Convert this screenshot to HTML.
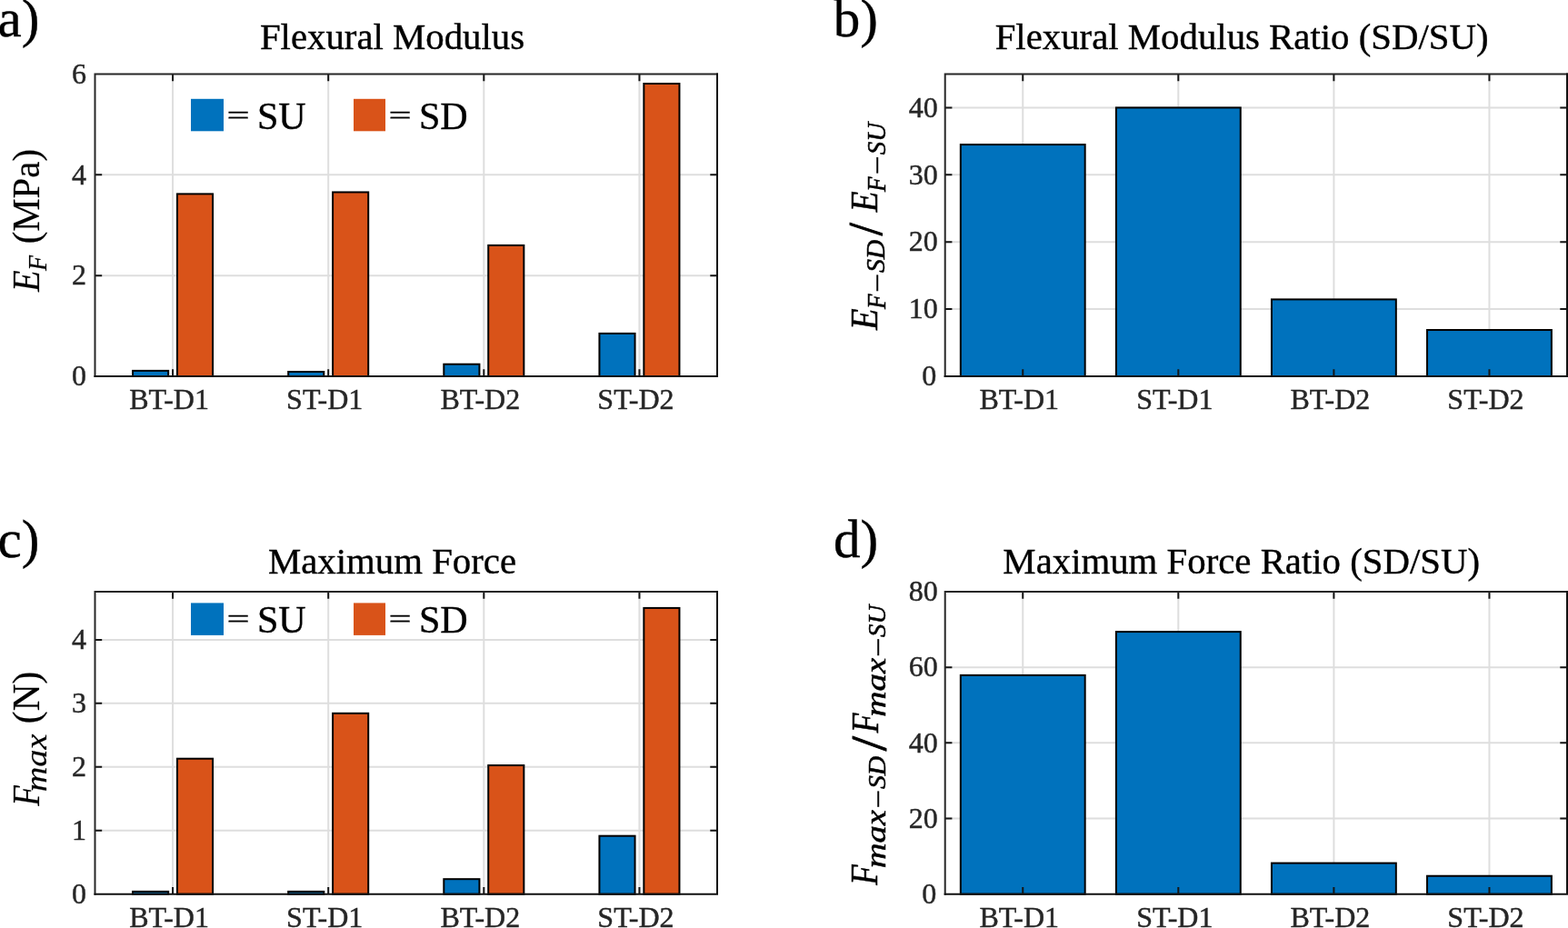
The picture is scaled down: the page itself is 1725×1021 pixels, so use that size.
<!DOCTYPE html>
<html><head><meta charset="utf-8"><title>Flexural Modulus and Maximum Force</title>
<style>
html,body{margin:0;padding:0;background:#fff;}
body{width:1725px;height:1021px;overflow:hidden;}
svg{display:block;font-family:'Liberation Serif', 'Times New Roman', serif;}
</style></head>
<body>
<svg width="1725" height="1021" viewBox="0 0 1725 1021">
<rect width="1725" height="1021" fill="#fff"/>
<g stroke="#dedede" stroke-width="2"><line x1="190.06" y1="81.5" x2="190.06" y2="414"/><line x1="361.19" y1="81.5" x2="361.19" y2="414"/><line x1="532.31" y1="81.5" x2="532.31" y2="414"/><line x1="703.44" y1="81.5" x2="703.44" y2="414"/><line x1="104.5" y1="303.17" x2="789" y2="303.17"/><line x1="104.5" y1="192.33" x2="789" y2="192.33"/></g>
<g stroke="#000" stroke-width="2"><rect x="146.05" y="407.9" width="39.12" height="6.1" fill="#0072BD"/><rect x="194.96" y="213.39" width="39.12" height="200.61" fill="#D95319"/><rect x="317.17" y="409.01" width="39.12" height="4.99" fill="#0072BD"/><rect x="366.08" y="211.45" width="39.12" height="202.55" fill="#D95319"/><rect x="488.3" y="400.7" width="39.12" height="13.3" fill="#0072BD"/><rect x="537.21" y="269.92" width="39.12" height="144.08" fill="#D95319"/><rect x="659.42" y="366.9" width="39.12" height="47.1" fill="#0072BD"/><rect x="708.33" y="92.03" width="39.12" height="321.97" fill="#D95319"/></g>
<path d="M190.06 414v-7.7M190.06 81.5v7.7M361.19 414v-7.7M361.19 81.5v7.7M532.31 414v-7.7M532.31 81.5v7.7M703.44 414v-7.7M703.44 81.5v7.7M104.5 303.17h7.7M789 303.17h-7.7M104.5 192.33h7.7M789 192.33h-7.7" stroke="#161616" stroke-width="2" fill="none"/>
<path d="M104.5 415V81.5H790" stroke="#262626" stroke-width="2" fill="none"/>
<path d="M103.5 414H789V80.5" stroke="#111" stroke-width="2" fill="none"/>
<g font-size="32" fill="#262626" stroke="#262626" stroke-width="0.45"><text x="186.06" y="450" text-anchor="middle">BT-D1</text><text x="357.19" y="450" text-anchor="middle">ST-D1</text><text x="528.31" y="450" text-anchor="middle">BT-D2</text><text x="699.44" y="450" text-anchor="middle">ST-D2</text><text x="95" y="424.2" text-anchor="end">0</text><text x="95" y="313.37" text-anchor="end">2</text><text x="95" y="202.53" text-anchor="end">4</text><text x="95" y="91.7" text-anchor="end">6</text></g>
<g stroke="#dedede" stroke-width="2"><line x1="1125.24" y1="81.5" x2="1125.24" y2="414"/><line x1="1296.31" y1="81.5" x2="1296.31" y2="414"/><line x1="1467.39" y1="81.5" x2="1467.39" y2="414"/><line x1="1638.46" y1="81.5" x2="1638.46" y2="414"/><line x1="1039.7" y1="340.11" x2="1724" y2="340.11"/><line x1="1039.7" y1="266.22" x2="1724" y2="266.22"/><line x1="1039.7" y1="192.33" x2="1724" y2="192.33"/><line x1="1039.7" y1="118.44" x2="1724" y2="118.44"/></g>
<g stroke="#000" stroke-width="2"><rect x="1056.81" y="159.08" width="136.86" height="254.92" fill="#0072BD"/><rect x="1227.88" y="118.44" width="136.86" height="295.56" fill="#0072BD"/><rect x="1398.96" y="329.4" width="136.86" height="84.6" fill="#0072BD"/><rect x="1570.03" y="363.02" width="136.86" height="50.98" fill="#0072BD"/></g>
<path d="M1125.24 414v-7.7M1125.24 81.5v7.7M1296.31 414v-7.7M1296.31 81.5v7.7M1467.39 414v-7.7M1467.39 81.5v7.7M1638.46 414v-7.7M1638.46 81.5v7.7M1039.7 340.11h7.7M1724 340.11h-7.7M1039.7 266.22h7.7M1724 266.22h-7.7M1039.7 192.33h7.7M1724 192.33h-7.7M1039.7 118.44h7.7M1724 118.44h-7.7" stroke="#161616" stroke-width="2" fill="none"/>
<path d="M1039.7 415V81.5H1725" stroke="#262626" stroke-width="2" fill="none"/>
<path d="M1038.7 414H1724V80.5" stroke="#111" stroke-width="2" fill="none"/>
<g font-size="32" fill="#262626" stroke="#262626" stroke-width="0.45"><text x="1121.24" y="450" text-anchor="middle">BT-D1</text><text x="1292.31" y="450" text-anchor="middle">ST-D1</text><text x="1463.39" y="450" text-anchor="middle">BT-D2</text><text x="1634.46" y="450" text-anchor="middle">ST-D2</text><text x="1030.2" y="424.2" text-anchor="end">0</text><text x="1031.7" y="350.31" text-anchor="end">10</text><text x="1031.7" y="276.42" text-anchor="end">20</text><text x="1031.7" y="202.53" text-anchor="end">30</text><text x="1031.7" y="128.64" text-anchor="end">40</text></g>
<g stroke="#dedede" stroke-width="2"><line x1="190.06" y1="651" x2="190.06" y2="983.7"/><line x1="361.19" y1="651" x2="361.19" y2="983.7"/><line x1="532.31" y1="651" x2="532.31" y2="983.7"/><line x1="703.44" y1="651" x2="703.44" y2="983.7"/><line x1="104.5" y1="913.75" x2="789" y2="913.75"/><line x1="104.5" y1="843.79" x2="789" y2="843.79"/><line x1="104.5" y1="773.84" x2="789" y2="773.84"/><line x1="104.5" y1="703.89" x2="789" y2="703.89"/></g>
<g stroke="#000" stroke-width="2"><rect x="146.05" y="980.9" width="39.12" height="2.8" fill="#0072BD"/><rect x="194.96" y="834.7" width="39.12" height="149" fill="#D95319"/><rect x="317.17" y="980.9" width="39.12" height="2.8" fill="#0072BD"/><rect x="366.08" y="784.82" width="39.12" height="198.88" fill="#D95319"/><rect x="488.3" y="967.19" width="39.12" height="16.51" fill="#0072BD"/><rect x="537.21" y="842.04" width="39.12" height="141.66" fill="#D95319"/><rect x="659.42" y="919.69" width="39.12" height="64.01" fill="#0072BD"/><rect x="708.33" y="668.91" width="39.12" height="314.79" fill="#D95319"/></g>
<path d="M190.06 983.7v-7.7M190.06 651v7.7M361.19 983.7v-7.7M361.19 651v7.7M532.31 983.7v-7.7M532.31 651v7.7M703.44 983.7v-7.7M703.44 651v7.7M104.5 913.75h7.7M789 913.75h-7.7M104.5 843.79h7.7M789 843.79h-7.7M104.5 773.84h7.7M789 773.84h-7.7M104.5 703.89h7.7M789 703.89h-7.7" stroke="#161616" stroke-width="2" fill="none"/>
<path d="M104.5 984.7V651H790" stroke="#262626" stroke-width="2" fill="none"/>
<path d="M103.5 983.7H789V650" stroke="#111" stroke-width="2" fill="none"/>
<g font-size="32" fill="#262626" stroke="#262626" stroke-width="0.45"><text x="186.06" y="1019.7" text-anchor="middle">BT-D1</text><text x="357.19" y="1019.7" text-anchor="middle">ST-D1</text><text x="528.31" y="1019.7" text-anchor="middle">BT-D2</text><text x="699.44" y="1019.7" text-anchor="middle">ST-D2</text><text x="95" y="993.9" text-anchor="end">0</text><text x="95" y="923.95" text-anchor="end">1</text><text x="95" y="853.99" text-anchor="end">2</text><text x="95" y="784.04" text-anchor="end">3</text><text x="95" y="714.09" text-anchor="end">4</text></g>
<g stroke="#dedede" stroke-width="2"><line x1="1125.24" y1="651" x2="1125.24" y2="983.7"/><line x1="1296.31" y1="651" x2="1296.31" y2="983.7"/><line x1="1467.39" y1="651" x2="1467.39" y2="983.7"/><line x1="1638.46" y1="651" x2="1638.46" y2="983.7"/><line x1="1039.7" y1="900.53" x2="1724" y2="900.53"/><line x1="1039.7" y1="817.35" x2="1724" y2="817.35"/><line x1="1039.7" y1="734.17" x2="1724" y2="734.17"/></g>
<g stroke="#000" stroke-width="2"><rect x="1056.81" y="742.91" width="136.86" height="240.79" fill="#0072BD"/><rect x="1227.88" y="695.08" width="136.86" height="288.62" fill="#0072BD"/><rect x="1398.96" y="949.6" width="136.86" height="34.1" fill="#0072BD"/><rect x="1570.03" y="963.74" width="136.86" height="19.96" fill="#0072BD"/></g>
<path d="M1125.24 983.7v-7.7M1125.24 651v7.7M1296.31 983.7v-7.7M1296.31 651v7.7M1467.39 983.7v-7.7M1467.39 651v7.7M1638.46 983.7v-7.7M1638.46 651v7.7M1039.7 900.53h7.7M1724 900.53h-7.7M1039.7 817.35h7.7M1724 817.35h-7.7M1039.7 734.17h7.7M1724 734.17h-7.7" stroke="#161616" stroke-width="2" fill="none"/>
<path d="M1039.7 984.7V651H1725" stroke="#262626" stroke-width="2" fill="none"/>
<path d="M1038.7 983.7H1724V650" stroke="#111" stroke-width="2" fill="none"/>
<g font-size="32" fill="#262626" stroke="#262626" stroke-width="0.45"><text x="1121.24" y="1019.7" text-anchor="middle">BT-D1</text><text x="1292.31" y="1019.7" text-anchor="middle">ST-D1</text><text x="1463.39" y="1019.7" text-anchor="middle">BT-D2</text><text x="1634.46" y="1019.7" text-anchor="middle">ST-D2</text><text x="1030.2" y="993.9" text-anchor="end">0</text><text x="1031.7" y="910.73" text-anchor="end">20</text><text x="1031.7" y="827.55" text-anchor="end">40</text><text x="1031.7" y="744.38" text-anchor="end">60</text><text x="1031.7" y="661.2" text-anchor="end">80</text></g>
<rect x="210" y="108.8" width="36" height="35.5" fill="#0072BD"/>
<rect x="389" y="108.8" width="35" height="35.5" fill="#D95319"/>
<g font-size="42" fill="#000" stroke="#000" stroke-width="0.4"><text transform="translate(262.1,127.6) scale(1.064,0.703)" y="13.05" text-anchor="middle">=</text><text x="282.9" y="141.5">SU</text><text transform="translate(440.0,127.6) scale(1.064,0.703)" y="13.05" text-anchor="middle">=</text><text x="460.9" y="141.5">SD</text></g>
<rect x="210" y="663.4" width="36" height="35.5" fill="#0072BD"/>
<rect x="389" y="663.4" width="35" height="35.5" fill="#D95319"/>
<g font-size="42" fill="#000" stroke="#000" stroke-width="0.4"><text transform="translate(262.1,682.2) scale(1.064,0.703)" y="13.05" text-anchor="middle">=</text><text x="282.9" y="696.1">SU</text><text transform="translate(440.0,682.2) scale(1.064,0.703)" y="13.05" text-anchor="middle">=</text><text x="460.9" y="696.1">SD</text></g>
<g font-size="40.8" fill="#000" stroke="#000" stroke-width="0.4" text-anchor="middle"><text x="431.5" y="53.7">Flexural Modulus</text><text x="1366.1" y="53.7">Flexural Modulus Ratio (SD/SU)</text><text x="431.5" y="631">Maximum Force</text><text x="1365.7" y="631">Maximum Force Ratio (SD/SU)</text></g>
<g font-size="59" fill="#000" stroke="#000" stroke-width="0.4"><text x="-2.5" y="39.8">a)</text><text x="916.8" y="39.8">b)</text><text x="-2.5" y="612.8">c)</text><text x="917" y="612.8">d)</text></g>
<g fill="#000" stroke="#000" stroke-width="0.2">
<text transform="translate(42.80,320.91) rotate(-90) scale(0.907,1)" font-size="42.44" font-style="italic">E</text>
<text transform="translate(51.05,297.96) rotate(-90) scale(0.923,1)" font-size="30.15" font-style="italic">F</text>
<text transform="translate(42.50,268.34) rotate(-90) scale(0.986,1)" font-size="41.44">(MPa)</text>
<text transform="translate(42.61,886.82) rotate(-90) scale(0.873,1)" font-size="42.15" font-style="italic">F</text>
<text transform="translate(51.06,871.34) rotate(-90) scale(1.134,1)" font-size="33.75" font-style="italic">max</text>
<text transform="translate(42.72,796.17) rotate(-90) scale(1.003,1)" font-size="41.33">(N)</text>
</g><g fill="#000" stroke="#000" stroke-width="0.5">
<text transform="translate(965.30,363.01) rotate(-90) scale(0.907,1)" font-size="42.44" font-style="italic">E</text>
<text transform="translate(973.75,339.97) rotate(-90) scale(0.905,1)" font-size="29.69" font-style="italic">F</text>
<text transform="translate(974.50,323.73) rotate(-90) scale(1.226,1)" font-size="30.00" font-style="italic">−</text>
<text transform="translate(973.31,300.10) rotate(-90) scale(1.021,1)" font-size="29.25" font-style="italic">SD</text>
<text transform="translate(970.28,259.30) rotate(-90) scale(0.978,1)" font-size="52.03" stroke-width="1" stroke-linejoin="round">/</text>
<text transform="translate(964.90,233.33) rotate(-90) scale(0.906,1)" font-size="41.22" font-style="italic">E</text>
<text transform="translate(974.05,210.97) rotate(-90) scale(0.887,1)" font-size="30.31" font-style="italic">F</text>
<text transform="translate(974.70,193.98) rotate(-90) scale(1.211,1)" font-size="30.00" font-style="italic">−</text>
<text transform="translate(973.61,170.29) rotate(-90) scale(0.984,1)" font-size="29.40" font-style="italic">SU</text>
<text transform="translate(965.41,973.72) rotate(-90) scale(0.889,1)" font-size="41.38" font-style="italic">F</text>
<text transform="translate(973.69,955.25) rotate(-90) scale(1.225,1)" font-size="31.46" font-style="italic">max</text>
<text transform="translate(975.50,891.33) rotate(-90) scale(1.197,1)" font-size="30.00" font-style="italic">−</text>
<text transform="translate(973.92,868.10) rotate(-90) scale(1.053,1)" font-size="28.21" font-style="italic">SD</text>
<text transform="translate(973.64,826.30) rotate(-90) scale(1.047,1)" font-size="55.94" stroke-width="1" stroke-linejoin="round">/</text>
<text transform="translate(965.81,806.22) rotate(-90) scale(0.836,1)" font-size="42.31" font-style="italic">F</text>
<text transform="translate(973.69,788.67) rotate(-90) scale(1.242,1)" font-size="31.46" font-style="italic">max</text>
<text transform="translate(975.50,724.75) rotate(-90) scale(1.233,1)" font-size="30.00" font-style="italic">−</text>
<text transform="translate(973.92,700.89) rotate(-90) scale(1.017,1)" font-size="28.21" font-style="italic">SU</text>
</g>
</svg>
</body></html>
